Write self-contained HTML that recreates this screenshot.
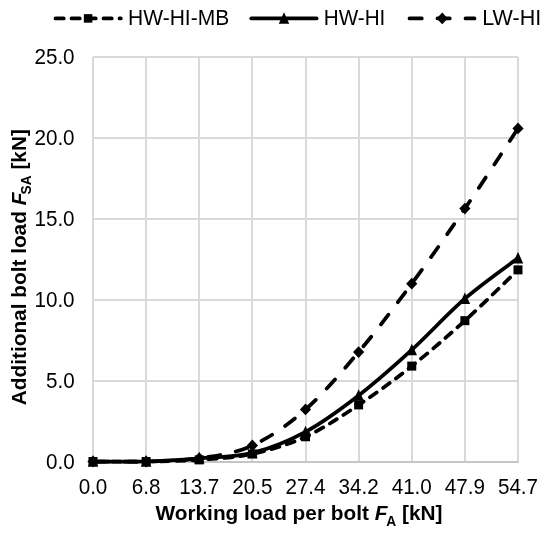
<!DOCTYPE html>
<html><head><meta charset="utf-8"><title>Additional bolt load chart</title>
<style>
html,body{margin:0;padding:0;background:#fff;}
body{width:550px;height:533px;overflow:hidden;}
svg{display:block;}
text{font-family:"Liberation Sans",Arial,sans-serif;fill:#000;}
</style></head><body>
<svg width="550" height="533" viewBox="0 0 550 533">
<rect width="550" height="533" fill="#fff"/>

<g stroke="#d9d9d9" stroke-width="2.00" fill="none" shape-rendering="crispEdges">
<line x1="93.00" y1="461.50" x2="518.00" y2="461.50"/>
<line x1="93.00" y1="380.65" x2="518.00" y2="380.65"/>
<line x1="93.00" y1="299.80" x2="518.00" y2="299.80"/>
<line x1="93.00" y1="218.95" x2="518.00" y2="218.95"/>
<line x1="93.00" y1="138.10" x2="518.00" y2="138.10"/>
<line x1="93.00" y1="57.25" x2="518.00" y2="57.25"/>
<line x1="93.00" y1="57.25" x2="93.00" y2="461.50"/>
<line x1="146.12" y1="57.25" x2="146.12" y2="461.50"/>
<line x1="199.25" y1="57.25" x2="199.25" y2="461.50"/>
<line x1="252.38" y1="57.25" x2="252.38" y2="461.50"/>
<line x1="305.50" y1="57.25" x2="305.50" y2="461.50"/>
<line x1="358.62" y1="57.25" x2="358.62" y2="461.50"/>
<line x1="411.75" y1="57.25" x2="411.75" y2="461.50"/>
<line x1="464.88" y1="57.25" x2="464.88" y2="461.50"/>
<line x1="518.00" y1="57.25" x2="518.00" y2="461.50"/>
</g>
<line x1="92.00" y1="461.50" x2="519.00" y2="461.50" stroke="#c6c6c6" stroke-width="2.00" shape-rendering="crispEdges"/>
<g font-size="21.5" text-anchor="end">
<text transform="translate(74.60,468.70) scale(0.960,1)">0.0</text>
<text transform="translate(74.60,387.85) scale(0.960,1)">5.0</text>
<text transform="translate(74.60,307.00) scale(0.960,1)">10.0</text>
<text transform="translate(74.60,226.15) scale(0.960,1)">15.0</text>
<text transform="translate(74.60,145.30) scale(0.960,1)">20.0</text>
<text transform="translate(74.60,64.45) scale(0.960,1)">25.0</text>
</g>
<g font-size="21.5" text-anchor="middle">
<text transform="translate(93.00,493.60) scale(0.960,1)">0.0</text>
<text transform="translate(146.12,493.60) scale(0.960,1)">6.8</text>
<text transform="translate(199.25,493.60) scale(0.960,1)">13.7</text>
<text transform="translate(252.38,493.60) scale(0.960,1)">20.5</text>
<text transform="translate(305.50,493.60) scale(0.960,1)">27.4</text>
<text transform="translate(358.62,493.60) scale(0.960,1)">34.2</text>
<text transform="translate(411.75,493.60) scale(0.960,1)">41.0</text>
<text transform="translate(464.88,493.60) scale(0.960,1)">47.9</text>
<text transform="translate(518.00,493.60) scale(0.960,1)">54.7</text>
</g>
<text x="155.5" y="520.2" font-size="20.80" font-weight="bold">Working load per bolt <tspan font-style="italic">F</tspan><tspan font-size="13.73" dx="-1.0" dy="5.5">A</tspan><tspan dy="-5.5"> [kN]</tspan></text>
<text transform="translate(25.8,405.2) rotate(-90)" font-size="20.80" font-weight="bold">Additional bolt load <tspan font-style="italic">F</tspan><tspan font-size="13.73" dx="-1.8" dy="5">SA</tspan><tspan dy="-5"> [kN]</tspan></text>
<path d="M93.00,461.50 C101.85,461.50 128.42,461.77 146.12,461.50 C163.83,461.23 181.54,461.15 199.25,459.88 C216.96,458.62 234.67,457.75 252.38,453.90 C270.08,450.05 287.79,444.93 305.50,436.76 C323.21,428.59 340.92,416.68 358.62,404.90 C376.33,393.13 394.04,380.14 411.75,366.10 C429.46,352.06 447.17,336.69 464.88,320.66 C482.58,304.62 509.15,278.35 518.00,269.89" fill="none" stroke="#000" stroke-width="3.75" stroke-linecap="round" stroke-linejoin="round" stroke-dasharray="8.25 7.75" stroke-dashoffset="-3.50"/>
<g fill="#000">
<rect x="88.50" y="457.00" width="9.00" height="9.00"/>
<rect x="141.62" y="457.00" width="9.00" height="9.00"/>
<rect x="194.75" y="455.38" width="9.00" height="9.00"/>
<rect x="247.88" y="449.40" width="9.00" height="9.00"/>
<rect x="301.00" y="432.26" width="9.00" height="9.00"/>
<rect x="354.12" y="400.40" width="9.00" height="9.00"/>
<rect x="407.25" y="361.60" width="9.00" height="9.00"/>
<rect x="460.38" y="316.16" width="9.00" height="9.00"/>
<rect x="513.50" y="265.39" width="9.00" height="9.00"/>
</g>
<path d="M93.00,461.50 C101.85,461.50 128.42,462.04 146.12,461.50 C163.83,460.96 181.54,459.69 199.25,458.27 C216.96,456.84 234.67,457.32 252.38,452.93 C270.08,448.54 287.79,441.48 305.50,431.91 C323.21,422.34 340.92,409.19 358.62,395.53 C376.33,381.86 394.04,366.07 411.75,349.93 C429.46,333.78 447.17,313.98 464.88,298.67 C482.58,283.36 509.15,264.85 518.00,258.08" fill="none" stroke="#000" stroke-width="3.75" stroke-linecap="round" stroke-linejoin="round"/>
<g fill="#000">
<path d="M93.00,455.30L98.25,466.80L87.75,466.80Z"/>
<path d="M146.12,455.30L151.38,466.80L140.88,466.80Z"/>
<path d="M199.25,452.07L204.50,463.57L194.00,463.57Z"/>
<path d="M252.38,446.73L257.62,458.23L247.12,458.23Z"/>
<path d="M305.50,425.71L310.75,437.21L300.25,437.21Z"/>
<path d="M358.62,389.33L363.88,400.83L353.38,400.83Z"/>
<path d="M411.75,343.73L417.00,355.23L406.50,355.23Z"/>
<path d="M464.88,292.47L470.12,303.97L459.62,303.97Z"/>
<path d="M518.00,251.88L523.25,263.38L512.75,263.38Z"/>
</g>
<path d="M93.00,461.50 C101.85,461.50 128.42,462.04 146.12,461.50 C163.83,460.96 181.54,460.93 199.25,458.27 C216.96,455.60 234.67,453.63 252.38,445.49 C270.08,437.35 287.79,425.01 305.50,409.43 C323.21,393.86 340.92,373.00 358.62,352.03 C376.33,331.06 394.04,307.53 411.75,283.63 C429.46,259.73 447.17,234.47 464.88,208.60 C482.58,182.73 509.15,141.77 518.00,128.40" fill="none" stroke="#000" stroke-width="3.75" stroke-linecap="round" stroke-linejoin="round" stroke-dasharray="12.25 15.75" stroke-dashoffset="-3.50"/>
<g fill="#000">
<path d="M93.00,455.60L98.60,461.50L93.00,467.40L87.40,461.50Z"/>
<path d="M146.12,455.60L151.72,461.50L146.12,467.40L140.53,461.50Z"/>
<path d="M199.25,452.37L204.85,458.27L199.25,464.17L193.65,458.27Z"/>
<path d="M252.38,439.59L257.98,445.49L252.38,451.39L246.78,445.49Z"/>
<path d="M305.50,403.53L311.10,409.43L305.50,415.33L299.90,409.43Z"/>
<path d="M358.62,346.13L364.23,352.03L358.62,357.93L353.02,352.03Z"/>
<path d="M411.75,277.73L417.35,283.63L411.75,289.53L406.15,283.63Z"/>
<path d="M464.88,202.70L470.48,208.60L464.88,214.50L459.27,208.60Z"/>
<path d="M518.00,122.50L523.60,128.40L518.00,134.30L512.40,128.40Z"/>
</g>
<line x1="55.50" y1="18.40" x2="120.80" y2="18.40" stroke="#000" stroke-width="3.75" stroke-linecap="round" stroke-dasharray="8.25 7.75"/><rect x="83.85" y="14.15" width="8.50" height="8.50"/>
<line x1="251.30" y1="18.40" x2="316.60" y2="18.40" stroke="#000" stroke-width="3.75" stroke-linecap="round"/><path d="M284.00,12.20L289.25,23.70L278.75,23.70Z"/>
<line x1="409.50" y1="18.40" x2="474.50" y2="18.40" stroke="#000" stroke-width="3.75" stroke-linecap="round" stroke-dasharray="12.25 15.75"/><path d="M442.20,12.50L447.80,18.40L442.20,24.30L436.60,18.40Z"/>
<g font-size="21.5">
<text x="128" y="25" textLength="101.2" lengthAdjust="spacingAndGlyphs">HW-HI-MB</text>
<text x="323.8" y="25" textLength="61.5" lengthAdjust="spacingAndGlyphs">HW-HI</text>
<text x="482.2" y="25" textLength="59" lengthAdjust="spacingAndGlyphs">LW-HI</text>
</g>
</svg>
</body></html>
